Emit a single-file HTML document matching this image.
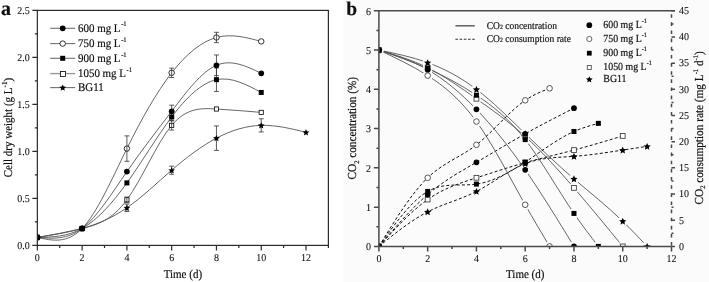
<!DOCTYPE html>
<html><head><meta charset="utf-8"><style>
html,body{margin:0;padding:0;background:#fff;width:709px;height:282px;overflow:hidden}
svg{display:block}
</style></head><body>
<svg width="709" height="282" viewBox="0 0 709 282" font-family='"Liberation Serif", "Times New Roman", serif'>
<rect width="709" height="282" fill="#fff"/>
<rect x="343" y="0" width="366" height="282" fill="#fbfbfb"/>
<style>text{fill:#111;stroke:#111;stroke-width:0.18px;text-rendering:geometricPrecision} text.tk{stroke-width:0.08px}</style>
<defs><clipPath id="ca"><rect x="37.35" y="10.40" width="291.04" height="235.00"/></clipPath><clipPath id="cb"><rect x="378.90" y="10.80" width="292.60" height="235.60"/></clipPath></defs>
<g clip-path="url(#ca)">
<path d="M37.35,237.41C52.27,234.76 67.20,232.11 82.12,228.48C97.05,224.85 111.97,220.23 126.90,199.81C141.83,179.39 156.75,143.18 171.67,125.36C186.60,107.54 201.52,108.10 216.45,109.01C231.37,109.91 246.30,111.15 261.23,112.39" fill="none" stroke="#555" stroke-width="0.9"/>
<path d="M37.35,237.41C52.27,235.07 67.20,232.72 82.12,228.48C97.05,224.24 111.97,218.09 126.90,207.80C141.83,197.51 156.75,183.07 171.67,170.20C186.60,157.33 201.52,146.04 216.45,138.15C231.37,130.25 246.30,125.77 261.23,125.36C276.15,124.96 291.07,128.64 306.00,132.32" fill="none" stroke="#555" stroke-width="0.9"/>
<path d="M37.35,237.41C52.27,237.12 67.20,236.83 82.12,228.48C97.05,220.13 111.97,203.72 126.90,182.89C141.83,162.06 156.75,136.80 171.67,117.00C186.60,97.20 201.52,82.86 216.45,79.68C231.37,76.50 246.30,84.48 261.23,92.46" fill="none" stroke="#555" stroke-width="0.9"/>
<path d="M37.35,237.41C52.27,238.63 67.20,239.84 82.12,228.48C97.05,217.12 111.97,193.18 126.90,171.61C141.83,150.04 156.75,130.85 171.67,111.26C186.60,91.67 201.52,71.69 216.45,65.30C231.37,58.90 246.30,66.09 261.23,73.29" fill="none" stroke="#555" stroke-width="0.9"/>
<path d="M37.35,237.41C52.27,240.68 67.20,243.94 82.12,228.48C97.05,213.02 111.97,178.83 126.90,148.58C141.83,118.33 156.75,92.02 171.67,72.82C186.60,53.61 201.52,41.52 216.45,37.47C231.37,33.42 246.30,37.42 261.23,41.42" fill="none" stroke="#555" stroke-width="0.9"/>
<rect x="35.25" y="235.31" width="4.20" height="4.20" fill="#fff" stroke="#000" stroke-width="0.8"/>
<rect x="80.03" y="226.38" width="4.20" height="4.20" fill="#fff" stroke="#000" stroke-width="0.8"/>
<rect x="124.80" y="197.71" width="4.20" height="4.20" fill="#fff" stroke="#000" stroke-width="0.8"/>
<rect x="169.57" y="123.26" width="4.20" height="4.20" fill="#fff" stroke="#000" stroke-width="0.8"/>
<rect x="214.35" y="106.91" width="4.20" height="4.20" fill="#fff" stroke="#000" stroke-width="0.8"/>
<rect x="259.12" y="110.29" width="4.20" height="4.20" fill="#fff" stroke="#000" stroke-width="0.8"/>
<circle cx="37.35" cy="237.41" r="2.75" fill="#fff" stroke="#000" stroke-width="0.8"/>
<circle cx="82.12" cy="228.48" r="2.75" fill="#fff" stroke="#000" stroke-width="0.8"/>
<circle cx="126.90" cy="148.58" r="2.75" fill="#fff" stroke="#000" stroke-width="0.8"/>
<circle cx="171.67" cy="72.82" r="2.75" fill="#fff" stroke="#000" stroke-width="0.8"/>
<circle cx="216.45" cy="37.47" r="2.75" fill="#fff" stroke="#000" stroke-width="0.8"/>
<circle cx="261.23" cy="41.42" r="2.75" fill="#fff" stroke="#000" stroke-width="0.8"/>
<path d="M126.90,135.89V161.27M124.40,135.89H129.40M124.40,161.27H129.40" stroke="#333" stroke-width="0.8" fill="none"/>
<path d="M171.67,68.12V77.52M169.17,68.12H174.17M169.17,77.52H174.17" stroke="#333" stroke-width="0.8" fill="none"/>
<path d="M216.45,32.30V42.64M213.95,32.30H218.95M213.95,42.64H218.95" stroke="#333" stroke-width="0.8" fill="none"/>
<path d="M171.67,105.15V117.37M169.17,105.15H174.17M169.17,117.37H174.17" stroke="#333" stroke-width="0.8" fill="none"/>
<path d="M216.45,54.96V75.64M213.95,54.96H218.95M213.95,75.64H218.95" stroke="#333" stroke-width="0.8" fill="none"/>
<path d="M216.45,67.93V91.43M213.95,67.93H218.95M213.95,91.43H218.95" stroke="#333" stroke-width="0.8" fill="none"/>
<path d="M171.67,113.24V120.76M169.17,113.24H174.17M169.17,120.76H174.17" stroke="#333" stroke-width="0.8" fill="none"/>
<path d="M171.67,120.66V130.06M169.17,120.66H174.17M169.17,130.06H174.17" stroke="#333" stroke-width="0.8" fill="none"/>
<path d="M126.90,196.99V202.63M124.40,196.99H129.40M124.40,202.63H129.40" stroke="#333" stroke-width="0.8" fill="none"/>
<path d="M216.45,125.93V150.37M213.95,125.93H218.95M213.95,150.37H218.95" stroke="#333" stroke-width="0.8" fill="none"/>
<path d="M261.23,118.78V131.94M258.73,118.78H263.73M258.73,131.94H263.73" stroke="#333" stroke-width="0.8" fill="none"/>
<path d="M126.90,204.04V211.56M124.40,204.04H129.40M124.40,211.56H129.40" stroke="#333" stroke-width="0.8" fill="none"/>
<path d="M171.67,166.16V174.24M169.17,166.16H174.17M169.17,174.24H174.17" stroke="#333" stroke-width="0.8" fill="none"/>
<polygon points="37.35,234.21 38.32,236.38 40.68,236.63 38.91,238.22 39.41,240.54 37.35,239.36 35.29,240.54 35.79,238.22 34.02,236.63 36.38,236.38" fill="#000"/>
<polygon points="82.12,225.28 83.09,227.45 85.45,227.70 83.69,229.29 84.18,231.61 82.12,230.43 80.07,231.61 80.56,229.29 78.80,227.70 81.16,227.45" fill="#000"/>
<polygon points="126.90,204.60 127.87,206.77 130.23,207.02 128.46,208.61 128.96,210.93 126.90,209.75 124.84,210.93 125.34,208.61 123.57,207.02 125.93,206.77" fill="#000"/>
<polygon points="171.67,167.00 172.64,169.17 175.00,169.42 173.24,171.01 173.73,173.33 171.67,172.15 169.62,173.33 170.11,171.01 168.35,169.42 170.71,169.17" fill="#000"/>
<polygon points="216.45,134.95 217.42,137.12 219.78,137.36 218.01,138.95 218.51,141.28 216.45,140.09 214.39,141.28 214.89,138.95 213.12,137.36 215.48,137.12" fill="#000"/>
<polygon points="261.23,122.16 262.19,124.33 264.55,124.58 262.79,126.17 263.28,128.49 261.23,127.31 259.17,128.49 259.66,126.17 257.90,124.58 260.26,124.33" fill="#000"/>
<polygon points="306.00,129.12 306.97,131.29 309.33,131.54 307.56,133.13 308.06,135.45 306.00,134.26 303.94,135.45 304.44,133.13 302.67,131.54 305.03,131.29" fill="#000"/>
<circle cx="37.35" cy="237.41" r="2.85" fill="#000"/>
<circle cx="82.12" cy="228.48" r="2.85" fill="#000"/>
<circle cx="126.90" cy="171.61" r="2.85" fill="#000"/>
<circle cx="171.67" cy="111.26" r="2.85" fill="#000"/>
<circle cx="216.45" cy="65.30" r="2.85" fill="#000"/>
<circle cx="261.23" cy="73.29" r="2.85" fill="#000"/>
<rect x="34.85" y="234.91" width="5.00" height="5.00" fill="#000"/>
<rect x="79.62" y="225.98" width="5.00" height="5.00" fill="#000"/>
<rect x="124.40" y="180.39" width="5.00" height="5.00" fill="#000"/>
<rect x="169.17" y="114.50" width="5.00" height="5.00" fill="#000"/>
<rect x="213.95" y="77.18" width="5.00" height="5.00" fill="#000"/>
<rect x="258.73" y="89.96" width="5.00" height="5.00" fill="#000"/>
</g>
<rect x="37.35" y="10.40" width="291.04" height="235.00" fill="none" stroke="#2a2a2a" stroke-width="1.2"/>
<path d="M32.35,245.40H37.35M34.85,221.90H37.35M32.35,198.40H37.35M34.85,174.90H37.35M32.35,151.40H37.35M34.85,127.90H37.35M32.35,104.40H37.35M34.85,80.90H37.35M32.35,57.40H37.35M34.85,33.90H37.35M32.35,10.40H37.35M37.35,245.40V250.40M59.74,245.40V247.90M82.12,245.40V250.40M104.51,245.40V247.90M126.90,245.40V250.40M149.29,245.40V247.90M171.67,245.40V250.40M194.06,245.40V247.90M216.45,245.40V250.40M238.84,245.40V247.90M261.23,245.40V250.40M283.61,245.40V247.90M306.00,245.40V250.40M328.39,245.40V247.90" stroke="#2a2a2a" stroke-width="1.2" fill="none"/>
<text transform="translate(29.85,249.00) scale(1,1.05)" font-size="10" text-anchor="end" class="tk">0.0</text>
<text transform="translate(29.85,202.00) scale(1,1.05)" font-size="10" text-anchor="end" class="tk">0.5</text>
<text transform="translate(29.85,155.00) scale(1,1.05)" font-size="10" text-anchor="end" class="tk">1.0</text>
<text transform="translate(29.85,108.00) scale(1,1.05)" font-size="10" text-anchor="end" class="tk">1.5</text>
<text transform="translate(29.85,61.00) scale(1,1.05)" font-size="10" text-anchor="end" class="tk">2.0</text>
<text transform="translate(29.85,14.00) scale(1,1.05)" font-size="10" text-anchor="end" class="tk">2.5</text>
<text transform="translate(37.35,260.90) scale(1,1.05)" font-size="10" text-anchor="middle" class="tk">0</text>
<text transform="translate(82.12,260.90) scale(1,1.05)" font-size="10" text-anchor="middle" class="tk">2</text>
<text transform="translate(126.90,260.90) scale(1,1.05)" font-size="10" text-anchor="middle" class="tk">4</text>
<text transform="translate(171.67,260.90) scale(1,1.05)" font-size="10" text-anchor="middle" class="tk">6</text>
<text transform="translate(216.45,260.90) scale(1,1.05)" font-size="10" text-anchor="middle" class="tk">8</text>
<text transform="translate(261.23,260.90) scale(1,1.05)" font-size="10" text-anchor="middle" class="tk">10</text>
<text transform="translate(306.00,260.90) scale(1,1.05)" font-size="10" text-anchor="middle" class="tk">12</text>
<text transform="translate(182.87,278.40) scale(1,1.09)" font-size="11" text-anchor="middle" >Time (d)</text>
<text transform="translate(12.30,127.60) rotate(-90) scale(1,1.09)" font-size="11" text-anchor="middle" >Cell dry weight (g L<tspan font-size="7" dy="-5">-1</tspan><tspan dy="5">)</tspan></text>
<text x="0.9" y="14.8" font-size="20" font-weight="bold">a</text>
<path d="M50.2,28.30H75.2" stroke="#707070" stroke-width="1.1"/>
<circle cx="62.70" cy="28.30" r="2.85" fill="#000"/>
<text transform="translate(78.00,31.70) scale(1,1.065)" font-size="10.95" text-anchor="start" >600 mg L<tspan font-size="6.5" dy="-5.2" dx="0.6">-1</tspan></text>
<path d="M50.2,43.60H75.2" stroke="#707070" stroke-width="1.1"/>
<circle cx="62.70" cy="43.60" r="2.75" fill="#fff" stroke="#000" stroke-width="0.8"/>
<text transform="translate(78.00,47.10) scale(1,1.065)" font-size="10.95" text-anchor="start" >750 mg L<tspan font-size="6.5" dy="-5.2" dx="0.6">-1</tspan></text>
<path d="M50.2,58.30H75.2" stroke="#707070" stroke-width="1.1"/>
<rect x="60.20" y="55.80" width="5.00" height="5.00" fill="#000"/>
<text transform="translate(78.00,62.30) scale(1,1.065)" font-size="10.95" text-anchor="start" >900 mg L<tspan font-size="6.5" dy="-5.2" dx="0.6">-1</tspan></text>
<path d="M50.2,73.60H75.2" stroke="#9a9a9a" stroke-width="1.4"/>
<rect x="60.38" y="71.48" width="5.04" height="5.04" fill="#fff" stroke="#000" stroke-width="0.8"/>
<text transform="translate(78.00,77.40) scale(1,1.065)" font-size="10.95" text-anchor="start" >1050 mg L<tspan font-size="6.5" dy="-5.2" dx="0.6">-1</tspan></text>
<path d="M50.2,87.60H75.2" stroke="#707070" stroke-width="1.1"/>
<polygon points="62.70,84.40 63.67,86.57 66.03,86.82 64.26,88.41 64.76,90.73 62.70,89.54 60.64,90.73 61.14,88.41 59.37,86.82 61.73,86.57" fill="#000"/>
<text transform="translate(78.00,90.60) scale(1,1.065)" font-size="10.95" text-anchor="start" >BG11</text>
<defs><mask id="m_os" maskUnits="userSpaceOnUse" x="0" y="0" width="709" height="282"><rect width="709" height="282" fill="#fff"/><circle cx="378.90" cy="50.07" r="5.2" fill="#000"/><circle cx="427.67" cy="67.74" r="5.2" fill="#000"/><circle cx="476.43" cy="98.76" r="5.2" fill="#000"/><circle cx="525.20" cy="136.45" r="5.2" fill="#000"/><circle cx="573.97" cy="187.89" r="5.2" fill="#000"/><circle cx="622.73" cy="246.40" r="5.2" fill="#000"/></mask><mask id="m_st" maskUnits="userSpaceOnUse" x="0" y="0" width="709" height="282"><rect width="709" height="282" fill="#fff"/><circle cx="378.90" cy="50.07" r="5.2" fill="#000"/><circle cx="427.67" cy="62.63" r="5.2" fill="#000"/><circle cx="476.43" cy="89.33" r="5.2" fill="#000"/><circle cx="525.20" cy="133.70" r="5.2" fill="#000"/><circle cx="573.97" cy="178.86" r="5.2" fill="#000"/><circle cx="622.73" cy="221.27" r="5.2" fill="#000"/><circle cx="647.12" cy="246.40" r="5.2" fill="#000"/></mask><mask id="m_fs" maskUnits="userSpaceOnUse" x="0" y="0" width="709" height="282"><rect width="709" height="282" fill="#fff"/><circle cx="378.90" cy="50.07" r="5.2" fill="#000"/><circle cx="427.67" cy="68.52" r="5.2" fill="#000"/><circle cx="476.43" cy="95.22" r="5.2" fill="#000"/><circle cx="525.20" cy="139.59" r="5.2" fill="#000"/><circle cx="573.97" cy="213.42" r="5.2" fill="#000"/><circle cx="598.35" cy="246.40" r="5.2" fill="#000"/></mask><mask id="m_fc" maskUnits="userSpaceOnUse" x="0" y="0" width="709" height="282"><rect width="709" height="282" fill="#fff"/><circle cx="378.90" cy="50.07" r="5.2" fill="#000"/><circle cx="427.67" cy="69.70" r="5.2" fill="#000"/><circle cx="476.43" cy="109.36" r="5.2" fill="#000"/><circle cx="525.20" cy="169.83" r="5.2" fill="#000"/><circle cx="573.97" cy="246.40" r="5.2" fill="#000"/></mask><mask id="m_oc" maskUnits="userSpaceOnUse" x="0" y="0" width="709" height="282"><rect width="709" height="282" fill="#fff"/><circle cx="378.90" cy="50.07" r="5.2" fill="#000"/><circle cx="427.67" cy="75.59" r="5.2" fill="#000"/><circle cx="476.43" cy="121.53" r="5.2" fill="#000"/><circle cx="525.20" cy="204.78" r="5.2" fill="#000"/><circle cx="549.58" cy="246.40" r="5.2" fill="#000"/></mask></defs>
<g clip-path="url(#cb)">
<path d="M378.90,50.07C395.16,54.85 411.41,59.63 427.67,67.74C443.92,75.84 460.18,87.28 476.43,98.76C492.69,110.23 508.94,121.75 525.20,136.45C541.46,151.15 557.71,169.04 573.97,187.89C590.22,206.75 606.48,226.57 622.73,246.40" fill="none" stroke="#555" stroke-width="0.9" mask="url(#m_os)"/>
<path d="M378.90,246.40C395.16,228.67 411.41,210.95 427.67,199.54C443.92,188.14 460.18,183.05 476.43,177.81C492.69,172.58 508.94,167.18 525.20,162.63C541.46,158.08 557.71,154.38 573.97,150.07C590.22,145.76 606.48,140.84 622.73,135.93" fill="none" stroke="#111" stroke-width="1" stroke-dasharray="3,2.2"/>
<path d="M378.90,50.07C395.16,53.40 411.41,56.74 427.67,62.63C443.92,68.53 460.18,76.99 476.43,89.33C492.69,101.68 508.94,117.91 525.20,133.70C541.46,149.50 557.71,164.85 573.97,178.86C590.22,192.87 606.48,205.54 622.73,221.27C630.86,229.14 638.99,237.77 647.12,246.40" fill="none" stroke="#555" stroke-width="0.9" mask="url(#m_st)"/>
<path d="M378.90,246.40C395.16,233.32 411.41,220.23 427.67,211.85C443.92,203.46 460.18,199.78 476.43,191.43C492.69,183.08 508.94,170.06 525.20,163.68C541.46,157.29 557.71,157.53 573.97,156.35C590.22,155.16 606.48,152.55 622.73,150.07C630.86,148.82 638.99,147.61 647.12,146.40" fill="none" stroke="#111" stroke-width="1" stroke-dasharray="3,2.2"/>
<path d="M378.90,50.07C395.16,55.70 411.41,61.32 427.67,68.52C443.92,75.72 460.18,84.48 476.43,95.22C492.69,105.96 508.94,118.67 525.20,139.59C541.46,160.51 557.71,189.64 573.97,213.42C582.09,225.30 590.22,235.85 598.35,246.40" fill="none" stroke="#555" stroke-width="0.9" mask="url(#m_fs)"/>
<path d="M378.90,246.40C395.16,223.56 411.41,200.71 427.67,191.43C443.92,182.14 460.18,186.41 476.43,184.10C492.69,181.78 508.94,172.88 525.20,162.11C541.46,151.34 557.71,138.70 573.97,131.48C582.09,127.87 590.22,125.62 598.35,123.36" fill="none" stroke="#111" stroke-width="1" stroke-dasharray="3,2.2"/>
<path d="M378.90,50.07C395.16,55.22 411.41,60.38 427.67,69.70C443.92,79.02 460.18,92.51 476.43,109.36C492.69,126.21 508.94,146.43 525.20,169.83C541.46,193.23 557.71,219.82 573.97,246.40" fill="none" stroke="#555" stroke-width="0.9" mask="url(#m_fc)"/>
<path d="M378.90,246.40C395.16,227.45 411.41,208.49 427.67,194.57C443.92,180.64 460.18,171.74 476.43,162.32C492.69,152.89 508.94,142.95 525.20,133.84C541.46,124.73 557.71,116.45 573.97,108.18" fill="none" stroke="#111" stroke-width="1" stroke-dasharray="3,2.2"/>
<path d="M378.90,50.07C395.16,57.66 411.41,65.25 427.67,75.59C443.92,85.93 460.18,99.02 476.43,121.53C492.69,144.04 508.94,175.98 525.20,204.78C533.33,219.18 541.46,232.79 549.58,246.40" fill="none" stroke="#555" stroke-width="0.9" mask="url(#m_oc)"/>
<path d="M378.90,246.40C395.16,219.91 411.41,193.41 427.67,177.81C443.92,162.21 460.18,157.51 476.43,144.83C492.69,132.15 508.94,111.51 525.20,100.33C533.33,94.74 541.46,91.51 549.58,88.29" fill="none" stroke="#111" stroke-width="1" stroke-dasharray="3,2.2"/>
<rect x="376.50" y="47.67" width="4.8" height="4.8" fill="#fff" stroke="#444" stroke-width="0.9"/>
<rect x="425.27" y="65.34" width="4.8" height="4.8" fill="#fff" stroke="#444" stroke-width="0.9"/>
<rect x="474.03" y="96.36" width="4.8" height="4.8" fill="#fff" stroke="#444" stroke-width="0.9"/>
<rect x="522.80" y="134.05" width="4.8" height="4.8" fill="#fff" stroke="#444" stroke-width="0.9"/>
<rect x="571.57" y="185.49" width="4.8" height="4.8" fill="#fff" stroke="#444" stroke-width="0.9"/>
<rect x="620.33" y="244.00" width="4.8" height="4.8" fill="#fff" stroke="#444" stroke-width="0.9"/>
<rect x="376.50" y="244.00" width="4.8" height="4.8" fill="#fff" stroke="#444" stroke-width="0.9"/>
<rect x="425.27" y="197.14" width="4.8" height="4.8" fill="#fff" stroke="#444" stroke-width="0.9"/>
<rect x="474.03" y="175.41" width="4.8" height="4.8" fill="#fff" stroke="#444" stroke-width="0.9"/>
<rect x="522.80" y="160.23" width="4.8" height="4.8" fill="#fff" stroke="#444" stroke-width="0.9"/>
<rect x="571.57" y="147.67" width="4.8" height="4.8" fill="#fff" stroke="#444" stroke-width="0.9"/>
<rect x="620.33" y="133.53" width="4.8" height="4.8" fill="#fff" stroke="#444" stroke-width="0.9"/>
<circle cx="378.90" cy="50.07" r="2.8" fill="#fff" stroke="#444" stroke-width="0.9"/>
<circle cx="427.67" cy="75.59" r="2.8" fill="#fff" stroke="#444" stroke-width="0.9"/>
<circle cx="476.43" cy="121.53" r="2.8" fill="#fff" stroke="#444" stroke-width="0.9"/>
<circle cx="525.20" cy="204.78" r="2.8" fill="#fff" stroke="#444" stroke-width="0.9"/>
<circle cx="549.58" cy="246.40" r="2.8" fill="#fff" stroke="#444" stroke-width="0.9"/>
<circle cx="378.90" cy="246.40" r="2.8" fill="#fff" stroke="#444" stroke-width="0.9"/>
<circle cx="427.67" cy="177.81" r="2.8" fill="#fff" stroke="#444" stroke-width="0.9"/>
<circle cx="476.43" cy="144.83" r="2.8" fill="#fff" stroke="#444" stroke-width="0.9"/>
<circle cx="525.20" cy="100.33" r="2.8" fill="#fff" stroke="#444" stroke-width="0.9"/>
<circle cx="549.58" cy="88.29" r="2.8" fill="#fff" stroke="#444" stroke-width="0.9"/>
<polygon points="378.90,46.57 379.95,48.92 382.51,49.19 380.60,50.92 381.13,53.44 378.90,52.15 376.67,53.44 377.20,50.92 375.29,49.19 377.85,48.92" fill="#000"/>
<polygon points="427.67,59.13 428.72,61.49 431.28,61.76 429.37,63.48 429.90,66.01 427.67,64.72 425.43,66.01 425.97,63.48 424.05,61.76 426.62,61.49" fill="#000"/>
<polygon points="476.43,85.83 477.48,88.19 480.05,88.46 478.13,90.19 478.67,92.71 476.43,91.42 474.20,92.71 474.73,90.19 472.82,88.46 475.38,88.19" fill="#000"/>
<polygon points="525.20,130.20 526.25,132.56 528.81,132.83 526.90,134.56 527.43,137.08 525.20,135.79 522.97,137.08 523.50,134.56 521.59,132.83 524.15,132.56" fill="#000"/>
<polygon points="573.97,175.36 575.02,177.72 577.58,177.99 575.67,179.71 576.20,182.24 573.97,180.95 571.73,182.24 572.27,179.71 570.35,177.99 572.92,177.72" fill="#000"/>
<polygon points="622.73,217.77 623.78,220.12 626.35,220.40 624.43,222.12 624.97,224.64 622.73,223.36 620.50,224.64 621.03,222.12 619.12,220.40 621.68,220.12" fill="#000"/>
<polygon points="647.12,242.90 648.17,245.26 650.73,245.53 648.82,247.25 649.35,249.77 647.12,248.49 644.88,249.77 645.42,247.25 643.50,245.53 646.07,245.26" fill="#000"/>
<polygon points="378.90,242.90 379.95,245.26 382.51,245.53 380.60,247.25 381.13,249.77 378.90,248.49 376.67,249.77 377.20,247.25 375.29,245.53 377.85,245.26" fill="#000"/>
<polygon points="427.67,208.35 428.72,210.70 431.28,210.97 429.37,212.70 429.90,215.22 427.67,213.93 425.43,215.22 425.97,212.70 424.05,210.97 426.62,210.70" fill="#000"/>
<polygon points="476.43,187.93 477.48,190.28 480.05,190.55 478.13,192.28 478.67,194.80 476.43,193.51 474.20,194.80 474.73,192.28 472.82,190.55 475.38,190.28" fill="#000"/>
<polygon points="525.20,160.18 526.25,162.53 528.81,162.80 526.90,164.53 527.43,167.05 525.20,165.76 522.97,167.05 523.50,164.53 521.59,162.80 524.15,162.53" fill="#000"/>
<polygon points="573.97,152.85 575.02,155.20 577.58,155.47 575.67,157.20 576.20,159.72 573.97,158.43 571.73,159.72 572.27,157.20 570.35,155.47 572.92,155.20" fill="#000"/>
<polygon points="622.73,146.57 623.78,148.92 626.35,149.19 624.43,150.92 624.97,153.44 622.73,152.15 620.50,153.44 621.03,150.92 619.12,149.19 621.68,148.92" fill="#000"/>
<polygon points="647.12,142.90 648.17,145.26 650.73,145.53 648.82,147.25 649.35,149.78 647.12,148.49 644.88,149.78 645.42,147.25 643.50,145.53 646.07,145.26" fill="#000"/>
<circle cx="378.90" cy="50.07" r="2.85" fill="#000"/>
<circle cx="427.67" cy="69.70" r="2.85" fill="#000"/>
<circle cx="476.43" cy="109.36" r="2.85" fill="#000"/>
<circle cx="525.20" cy="169.83" r="2.85" fill="#000"/>
<circle cx="573.97" cy="246.40" r="2.85" fill="#000"/>
<circle cx="378.90" cy="246.40" r="2.85" fill="#000"/>
<circle cx="427.67" cy="194.57" r="2.85" fill="#000"/>
<circle cx="476.43" cy="162.32" r="2.85" fill="#000"/>
<circle cx="525.20" cy="133.84" r="2.85" fill="#000"/>
<circle cx="573.97" cy="108.18" r="2.85" fill="#000"/>
<rect x="376.40" y="47.57" width="5.00" height="5.00" fill="#000"/>
<rect x="425.17" y="66.02" width="5.00" height="5.00" fill="#000"/>
<rect x="473.93" y="92.72" width="5.00" height="5.00" fill="#000"/>
<rect x="522.70" y="137.09" width="5.00" height="5.00" fill="#000"/>
<rect x="571.47" y="210.92" width="5.00" height="5.00" fill="#000"/>
<rect x="595.85" y="243.90" width="5.00" height="5.00" fill="#000"/>
<rect x="376.40" y="243.90" width="5.00" height="5.00" fill="#000"/>
<rect x="425.17" y="188.93" width="5.00" height="5.00" fill="#000"/>
<rect x="473.93" y="181.60" width="5.00" height="5.00" fill="#000"/>
<rect x="522.70" y="159.61" width="5.00" height="5.00" fill="#000"/>
<rect x="571.47" y="128.98" width="5.00" height="5.00" fill="#000"/>
<rect x="595.85" y="120.86" width="5.00" height="5.00" fill="#000"/>
</g>
<path d="M378.90,10.80V246.40H671.50M378.90,10.80H675.00" stroke="#4a4a4a" stroke-width="1.5" fill="none"/>
<path d="M671.50,10.80V246.40" stroke="#4a4a4a" stroke-width="1.5" fill="none" stroke-dasharray="3.6,4.54" stroke-dashoffset="4.74"/>
<path d="M373.90,246.40H378.90M376.40,226.77H378.90M373.90,207.13H378.90M376.40,187.50H378.90M373.90,167.87H378.90M376.40,148.23H378.90M373.90,128.60H378.90M376.40,108.97H378.90M373.90,89.33H378.90M376.40,69.70H378.90M373.90,50.07H378.90M376.40,30.43H378.90M373.90,10.80H378.90M378.90,246.40V251.40M403.28,246.40V248.90M427.67,246.40V251.40M452.05,246.40V248.90M476.43,246.40V251.40M500.82,246.40V248.90M525.20,246.40V251.40M549.58,246.40V248.90M573.97,246.40V251.40M598.35,246.40V248.90M622.73,246.40V251.40M647.12,246.40V248.90M671.50,246.40V251.40M671.50,246.40H675.00M671.50,233.31H673.50M671.50,220.22H675.00M671.50,207.13H673.50M671.50,194.04H675.00M671.50,180.96H673.50M671.50,167.87H675.00M671.50,154.78H673.50M671.50,141.69H675.00M671.50,128.60H673.50M671.50,115.51H675.00M671.50,102.42H673.50M671.50,89.33H675.00M671.50,76.24H673.50M671.50,63.16H675.00M671.50,50.07H673.50M671.50,36.98H675.00M671.50,23.89H673.50M671.50,10.80H675.00" stroke="#4a4a4a" stroke-width="1.5" fill="none"/>
<text transform="translate(370.90,250.20) scale(1,1.05)" font-size="10" text-anchor="end" class="tk">0</text>
<text transform="translate(370.90,210.93) scale(1,1.05)" font-size="10" text-anchor="end" class="tk">1</text>
<text transform="translate(370.90,171.67) scale(1,1.05)" font-size="10" text-anchor="end" class="tk">2</text>
<text transform="translate(370.90,132.40) scale(1,1.05)" font-size="10" text-anchor="end" class="tk">3</text>
<text transform="translate(370.90,93.13) scale(1,1.05)" font-size="10" text-anchor="end" class="tk">4</text>
<text transform="translate(370.90,53.87) scale(1,1.05)" font-size="10" text-anchor="end" class="tk">5</text>
<text transform="translate(370.90,14.60) scale(1,1.05)" font-size="10" text-anchor="end" class="tk">6</text>
<text transform="translate(378.90,262.10) scale(1,1.05)" font-size="10" text-anchor="middle" class="tk">0</text>
<text transform="translate(427.67,262.10) scale(1,1.05)" font-size="10" text-anchor="middle" class="tk">2</text>
<text transform="translate(476.43,262.10) scale(1,1.05)" font-size="10" text-anchor="middle" class="tk">4</text>
<text transform="translate(525.20,262.10) scale(1,1.05)" font-size="10" text-anchor="middle" class="tk">6</text>
<text transform="translate(573.97,262.10) scale(1,1.05)" font-size="10" text-anchor="middle" class="tk">8</text>
<text transform="translate(622.73,262.10) scale(1,1.05)" font-size="10" text-anchor="middle" class="tk">10</text>
<text transform="translate(671.50,262.10) scale(1,1.05)" font-size="10" text-anchor="middle" class="tk">12</text>
<text transform="translate(679.00,249.70) scale(1,1.05)" font-size="10" text-anchor="start" class="tk">0</text>
<text transform="translate(679.00,223.52) scale(1,1.05)" font-size="10" text-anchor="start" class="tk">5</text>
<text transform="translate(679.00,197.34) scale(1,1.05)" font-size="10" text-anchor="start" class="tk">10</text>
<text transform="translate(679.00,171.17) scale(1,1.05)" font-size="10" text-anchor="start" class="tk">15</text>
<text transform="translate(679.00,144.99) scale(1,1.05)" font-size="10" text-anchor="start" class="tk">20</text>
<text transform="translate(679.00,118.81) scale(1,1.05)" font-size="10" text-anchor="start" class="tk">25</text>
<text transform="translate(679.00,92.63) scale(1,1.05)" font-size="10" text-anchor="start" class="tk">30</text>
<text transform="translate(679.00,66.46) scale(1,1.05)" font-size="10" text-anchor="start" class="tk">35</text>
<text transform="translate(679.00,40.28) scale(1,1.05)" font-size="10" text-anchor="start" class="tk">40</text>
<text transform="translate(679.00,14.10) scale(1,1.05)" font-size="10" text-anchor="start" class="tk">45</text>
<text transform="translate(525.20,278.20) scale(1,1.09)" font-size="11" text-anchor="middle" >Time (d)</text>
<text transform="translate(355.90,128.20) rotate(-90) scale(1,1.09)" font-size="11.25" text-anchor="middle" >CO<tspan font-size="6.5" dy="2.5">2</tspan><tspan dy="-2.5"> concentration (%)</tspan></text>
<text transform="translate(702.60,127.90) rotate(-90) scale(1,1.09)" font-size="11.25" text-anchor="middle" >CO<tspan font-size="6.5" dy="2.5">2</tspan><tspan dy="-2.5"> consumption rate (mg L</tspan><tspan font-size="6.5" dy="-4">-1</tspan><tspan dy="4"> d</tspan><tspan font-size="6.5" dy="-4">-1</tspan><tspan dy="4">)</tspan></text>
<text x="346.3" y="14.6" font-size="19.5" font-weight="bold">b</text>
<path d="M455.4,25.8H474.8" stroke="#555" stroke-width="1.4"/>
<path d="M455.4,39.2H474.8" stroke="#333" stroke-width="1.1" stroke-dasharray="2.6,1.6"/>
<text transform="translate(486.70,28.80) scale(1,1.09)" font-size="9.5" text-anchor="start" >CO<tspan font-size="5.8">2</tspan> concentration</text>
<text transform="translate(486.70,42.20) scale(1,1.09)" font-size="9.5" text-anchor="start" >CO<tspan font-size="5.8">2</tspan> consumption rate</text>
<circle cx="589.30" cy="25.20" r="2.85" fill="#000"/>
<text transform="translate(603.30,28.40) scale(1,1.09)" font-size="9.9" text-anchor="start" >600 mg L<tspan font-size="6" dy="-4.5">-1</tspan></text>
<circle cx="589.3" cy="39.00" r="2.6" fill="#fff" stroke="#555" stroke-width="0.9"/>
<text transform="translate(603.30,42.00) scale(1,1.09)" font-size="9.9" text-anchor="start" >750 mg L<tspan font-size="6" dy="-4.5">-1</tspan></text>
<rect x="586.92" y="50.83" width="4.75" height="4.75" fill="#000"/>
<text transform="translate(603.30,55.80) scale(1,1.09)" font-size="9.9" text-anchor="start" >900 mg L<tspan font-size="6" dy="-4.5">-1</tspan></text>
<rect x="587.30" y="65.50" width="4.0" height="4.0" fill="#fff" stroke="#555" stroke-width="0.9"/>
<text transform="translate(603.30,70.20) scale(1,1.09)" font-size="9.9" text-anchor="start" >1050 mg L<tspan font-size="6" dy="-4.5">-1</tspan></text>
<polygon points="589.30,76.20 590.27,78.37 592.63,78.62 590.86,80.21 591.36,82.53 589.30,81.34 587.24,82.53 587.74,80.21 585.97,78.62 588.33,78.37" fill="#000"/>
<text transform="translate(603.30,82.30) scale(1,1.09)" font-size="9.9" text-anchor="start" >BG11</text>
</svg>
</body></html>
